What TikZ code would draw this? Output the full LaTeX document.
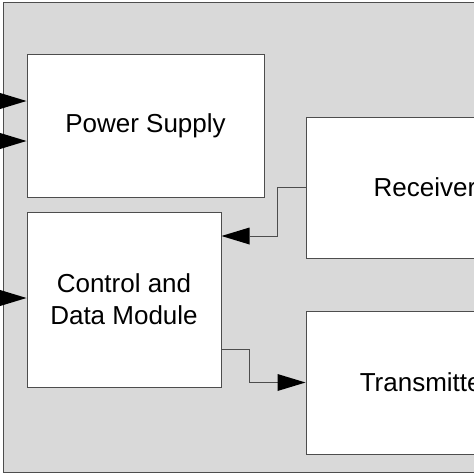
\documentclass[tikz,border=0pt]{standalone}
\usepackage{fontspec}
\setmainfont{Liberation Sans}
\usetikzlibrary{arrows.meta}
\definecolor{panel}{HTML}{D9D9D9}
\definecolor{edge}{HTML}{4D4D4D}
\begin{document}
\begin{tikzpicture}[x=1pt, y=-1pt]
\tikzset{bloc/.style={draw=edge, line width=1pt, fill=white, rectangle, inner sep=0pt,
  font=\fontsize{26}{32}\selectfont, align=center}}
\tikzset{fleche/.style={draw=edge, line width=1pt,
  -{Triangle[length=28pt, width=17pt, fill=black, line width=0pt]}}}
\useasboundingbox (0,0) rectangle (474,474);
\clip (0,0) rectangle (474,474);
\draw[draw=edge, line width=1pt, fill=panel] (3,2) rectangle (560,472);
\node[bloc, minimum width=237pt, minimum height=143pt] (Pow) at (145.5,125.5) {Power Supply};
\node[bloc, minimum width=194pt, minimum height=175pt] (Ctrl) at (124,299.5) {Control and\\Data Module};
\node[bloc, minimum width=238pt, minimum height=141pt] (Rec) at (425,187.5) {Receiver};
\node[bloc, minimum width=238pt, minimum height=143pt] (Trans) at (425,382.5) {Transmitter};
\coordinate (in1) at (-5,101);
\coordinate (in2) at (-5,141);
\coordinate (in3) at (-5,298);
\draw[fleche] (in1) -- (Pow.west |- in1);
\draw[fleche] (in2) -- (Pow.west |- in2);
\draw[fleche] (in3) -- (Ctrl.west |- in3);
\draw[fleche] (Rec.west) -- ++(-28,0) |- ([yshift=63.5pt]Ctrl.east);
\draw[fleche] ([yshift=-49.5pt]Ctrl.east) -- ++(28,0) |- (Trans.west);
\end{tikzpicture}
\end{document}
